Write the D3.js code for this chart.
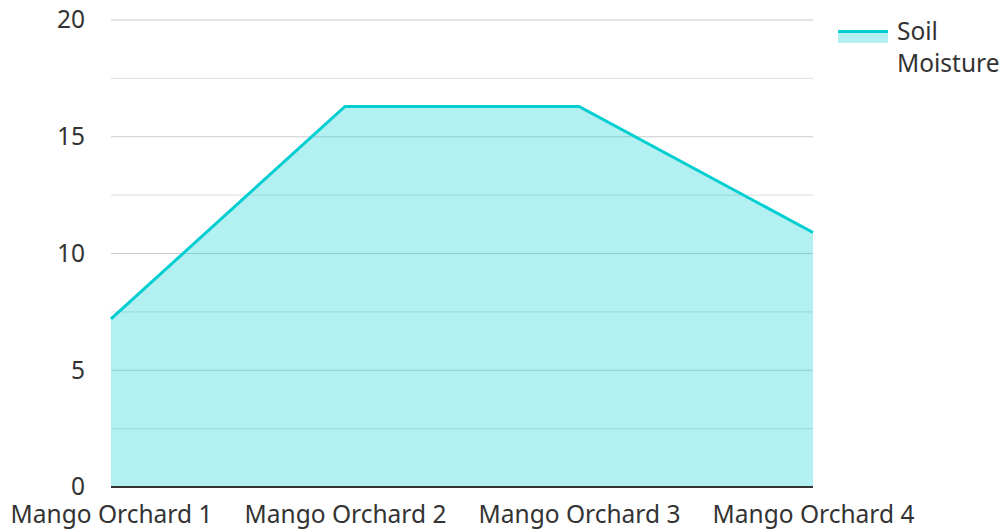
<!DOCTYPE html>
<html>
<head>
<meta charset="utf-8">
<script src="https://cdn.jsdelivr.net/npm/d3@7"></script>
<style>
  body { margin: 0; background: #fff; }
  text { font-family: "Noto Sans", "Open Sans", sans-serif; fill: #333; }
</style>
</head>
<body>
<script>
"use strict";
// chart data
const categories = ["Mango Orchard 1", "Mango Orchard 2", "Mango Orchard 3", "Mango Orchard 4"];
const soilMoisture = [7.2, 16.3, 16.3, 10.9];
const seriesName = ["Soil", "Moisture"];
const yTicks = [0, 5, 10, 15, 20];
const yMinorTicks = [2.5, 7.5, 12.5, 17.5];

const size = { width: 1003, height: 531 };
const plot = { left: 111, right: 813, top: 20, bottom: 487 };
const fontSize = 24.5;

const svg = d3.select("body").append("svg")
    .attr("width", size.width)
    .attr("height", size.height);

const x = d3.scalePoint()
    .domain(categories)
    .range([plot.left, plot.right]);

const y = d3.scaleLinear()
    .domain([0, 20])
    .range([plot.bottom, plot.top]);

// gridlines
svg.append("g").selectAll("line")
    .data(yMinorTicks)
    .enter().append("line")
    .attr("x1", plot.left).attr("x2", plot.right)
    .attr("y1", d => y(d)).attr("y2", d => y(d))
    .attr("stroke", "#e3e3e3").attr("stroke-width", 1.2);

svg.append("g").selectAll("line")
    .data(yTicks.filter(d => d > 0))
    .enter().append("line")
    .attr("x1", plot.left).attr("x2", plot.right)
    .attr("y1", d => y(d)).attr("y2", d => y(d))
    .attr("stroke", "#cccccc").attr("stroke-width", 1.2);

// area + line
const area = d3.area()
    .x((d, i) => x(categories[i]))
    .y0(y(0))
    .y1(d => y(d));

const line = d3.line()
    .x((d, i) => x(categories[i]))
    .y(d => y(d));

svg.append("path")
    .datum(soilMoisture)
    .attr("d", area)
    .attr("fill", "rgba(0,206,209,0.3)");

svg.append("path")
    .datum(soilMoisture)
    .attr("d", line)
    .attr("fill", "none")
    .attr("stroke", "#00CED1")
    .attr("stroke-width", 3);

// y axis labels
const yAxis = d3.axisLeft(y)
    .tickValues(yTicks)
    .tickSize(0)
    .tickPadding(26);

svg.append("g")
    .attr("transform", `translate(${plot.left},0)`)
    .call(yAxis)
    .call(g => g.select(".domain").remove())
    .call(g => g.selectAll("text")
        .attr("font-size", fontSize)
        .attr("font-family", "'Noto Sans', sans-serif")
        .attr("fill", "#333"));

// x axis
const xAxis = d3.axisBottom(x)
    .tickSize(0)
    .tickPadding(19);

svg.append("g")
    .attr("transform", `translate(0,${plot.bottom})`)
    .call(xAxis)
    .call(g => g.select(".domain")
        .attr("stroke", "#333")
        .attr("stroke-width", 2)
        .attr("d", `M${plot.left},0H${plot.right}`))
    .call(g => g.selectAll("text")
        .attr("font-size", fontSize)
        .attr("font-family", "'Noto Sans', sans-serif")
        .attr("fill", "#333"));

// legend
const legend = svg.append("g").attr("transform", "translate(838,31)");
legend.append("rect")
    .attr("x", 0).attr("y", 0)
    .attr("width", 50).attr("height", 12)
    .attr("fill", "rgba(0,206,209,0.3)");
legend.append("line")
    .attr("x1", 0).attr("x2", 50)
    .attr("y1", 0.5).attr("y2", 0.5)
    .attr("stroke", "#00CED1").attr("stroke-width", 3);
legend.selectAll("text.lbl")
    .data(seriesName)
    .enter().append("text")
    .attr("class", "lbl")
    .attr("x", 59)
    .attr("y", (d, i) => 9 + i * 32)
    .attr("font-size", fontSize)
    .text(d => d);
</script>
</body>
</html>
